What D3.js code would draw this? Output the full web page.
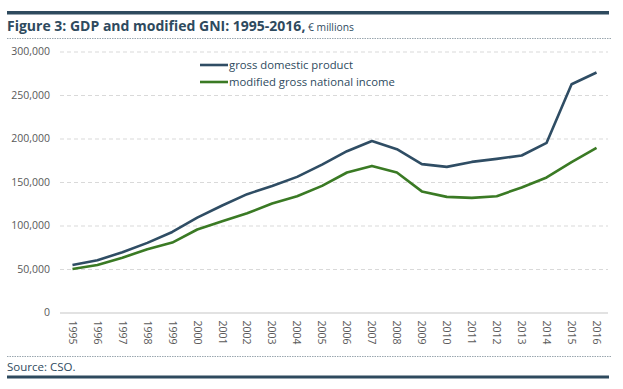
<!DOCTYPE html>
<html>
<head>
<meta charset="utf-8">
<script src="https://cdn.jsdelivr.net/npm/d3@7"></script>
<style>
  body { margin: 0; background: #fff; }
  svg { display: block; font-family: "Open Sans", sans-serif; }
</style>
</head>
<body>
<svg width="623" height="389"></svg>
<script>
const years = ["1995", "1996", "1997", "1998", "1999", "2000", "2001", "2002", "2003", "2004", "2005",
    "2006", "2007", "2008", "2009", "2010", "2011", "2012", "2013", "2014", "2015", "2016"];
const gdp = [54700, 60000, 69300, 80000, 92600, 109000, 123000, 136000, 145500, 155900, 170000,
    185400, 197200, 187700, 170500, 167400, 173100, 176600, 180500, 195000, 262400, 275900];
const gni = [50100, 54700, 63000, 72700, 80400, 95400, 105000, 114000, 125300, 133700, 145500,
    160900, 168500, 160900, 139200, 132900, 131700, 133700, 143700, 155200, 172800, 189200];
const yTicks = [0, 50000, 100000, 150000, 200000, 250000, 300000];
const seriesNames = ["gross domestic product", "modified gross national income"];
const colors = ["#2f4d64", "#3a7a24"];

const svg = d3.select("svg");
const dark = "#2e4a5e";

// frame
svg.append("rect").attr("x", 7).attr("y", 11).attr("width", 602).attr("height", 3.5).attr("fill", dark);
svg.append("rect").attr("x", 7).attr("y", 375.5).attr("width", 602).attr("height", 3).attr("fill", dark);
[38.5, 356.5].forEach(yy =>
    svg.append("line")
        .attr("x1", 7).attr("x2", 611).attr("y1", yy).attr("y2", yy)
        .attr("stroke", "#9aa6ae").attr("stroke-width", 1).attr("stroke-dasharray", "1.5,1"));

const title = svg.append("text").attr("x", 7).attr("y", 31).attr("fill", dark);
title.append("tspan").attr("font-weight", "bold").attr("font-size", 14).text("Figure 3: GDP and modified GNI: 1995-2016,");
title.append("tspan").attr("font-size", 10.3).text(" € millions");

svg.append("text").attr("x", 7).attr("y", 371).attr("fill", dark).attr("font-size", 11.5).text("Source: CSO.");

// scales
const x = d3.scaleBand().domain(years).range([60, 609]);
const y = d3.scaleLinear().domain([0, 300000]).range([312.5, 51.5]);

const yAxis = svg.append("g")
    .attr("transform", "translate(60,0)")
    .call(d3.axisLeft(y).tickValues(yTicks).tickSize(-548).tickPadding(10).tickFormat(d3.format(",")));
yAxis.select(".domain").remove();
yAxis.selectAll(".tick line")
    .attr("stroke", "#d9d9d9")
    .attr("stroke-width", d => d === 0 ? 1.3 : 1)
    .attr("stroke-dasharray", d => d === 0 ? null : "4,3");
yAxis.selectAll(".tick text").attr("fill", "#595959").attr("font-size", 10.5)
    .attr("font-family", "'Open Sans', sans-serif");

const xAxis = svg.append("g")
    .attr("transform", "translate(0,312.5)")
    .call(d3.axisBottom(x).tickSize(0).tickPadding(0));
xAxis.select(".domain").remove();
xAxis.selectAll(".tick text")
    .attr("transform", "rotate(90)")
    .attr("x", 8).attr("y", 0).attr("dy", "0.35em")
    .attr("text-anchor", "start")
    .attr("fill", "#595959").attr("font-size", 10.5)
    .attr("font-family", "'Open Sans', sans-serif");

// lines
const line = d3.line().x((d, i) => x(years[i]) + x.bandwidth() / 2).y(d => y(d));
[gdp, gni].forEach((s, k) =>
    svg.append("path").datum(s).attr("d", line)
        .attr("fill", "none").attr("stroke", colors[k]).attr("stroke-width", 2.6)
        .attr("stroke-linejoin", "round"));

// legend
const legend = svg.append("g");
seriesNames.forEach((name, k) => {
    const ly = 65 + k * 17;
    legend.append("line").attr("x1", 200).attr("x2", 228).attr("y1", ly).attr("y2", ly)
        .attr("stroke", colors[k]).attr("stroke-width", 2.6);
    legend.append("text").attr("x", 229).attr("y", ly).attr("dy", "0.35em")
        .attr("fill", dark).attr("font-size", 11.3).text(name);
});
</script>
</body>
</html>
